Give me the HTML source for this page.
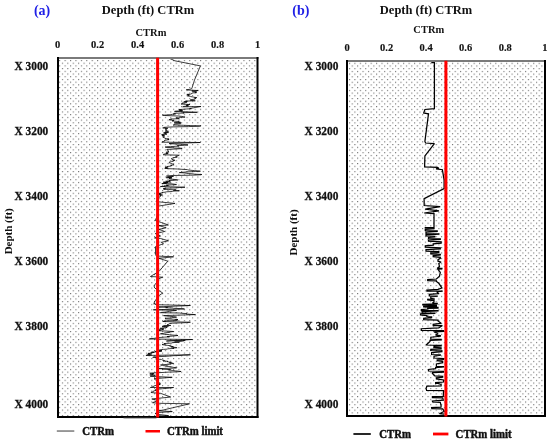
<!DOCTYPE html>
<html><head><meta charset="utf-8"><title>CTRm depth plots</title>
<style>
html,body{margin:0;padding:0;background:#fff;width:550px;height:442px;overflow:hidden}
svg{display:block;filter:blur(0.3px)}
text{font-family:'Liberation Serif','Times New Roman',serif;font-weight:bold;fill:#111}
.lbl{font-size:14px;fill:#2020e6}
.t1{font-size:12.5px}
.t2{font-size:10.5px}
.t3{font-size:11px}
.t4{font-size:12.7px;stroke:#111;stroke-width:0.3px}
.t6{font-size:11.3px;stroke:#111;stroke-width:0.15px}
.t5{font-size:11.6px;stroke:#111;stroke-width:0.45px}
</style></head><body>
<svg width="550" height="442" viewBox="0 0 550 442">
<defs>
<pattern id="dpa" patternUnits="userSpaceOnUse" x="59.15" y="59.95" width="5.42" height="5.42"><rect x="0" y="0" width="1.1" height="1.1" fill="#6c6c6c"/><rect x="2.71" y="2.71" width="1.1" height="1.1" fill="#6c6c6c"/></pattern>
<pattern id="dpb" patternUnits="userSpaceOnUse" x="348.95" y="62.75" width="5.42" height="5.42"><rect x="0" y="0" width="1.1" height="1.1" fill="#6c6c6c"/><rect x="2.71" y="2.71" width="1.1" height="1.1" fill="#6c6c6c"/></pattern>
</defs>
<rect width="550" height="442" fill="#fff"/>
<text x="33.9" y="14.5" class="lbl">(a)</text>
<text x="148" y="14.4" class="t1" text-anchor="middle">Depth (ft) CTRm</text>
<text x="151" y="36.1" class="t2" text-anchor="middle">CTRm</text>
<text transform="translate(57.70,48.35) scale(0.93,1)" class="t6" text-anchor="middle">0</text>
<text transform="translate(97.68,48.35) scale(0.93,1)" class="t6" text-anchor="middle">0.2</text>
<text transform="translate(137.66,48.35) scale(0.93,1)" class="t6" text-anchor="middle">0.4</text>
<text transform="translate(177.64,48.35) scale(0.93,1)" class="t6" text-anchor="middle">0.6</text>
<text transform="translate(217.62,48.35) scale(0.93,1)" class="t6" text-anchor="middle">0.8</text>
<text transform="translate(257.60,48.35) scale(0.93,1)" class="t6" text-anchor="middle">1</text>
<text transform="translate(48.3,69.8) scale(0.895,1)" class="t4" text-anchor="end">X 3000</text>
<text transform="translate(48.3,134.8) scale(0.895,1)" class="t4" text-anchor="end">X 3200</text>
<text transform="translate(48.3,199.8) scale(0.895,1)" class="t4" text-anchor="end">X 3400</text>
<text transform="translate(48.3,264.8) scale(0.895,1)" class="t4" text-anchor="end">X 3600</text>
<text transform="translate(48.3,329.9) scale(0.895,1)" class="t4" text-anchor="end">X 3800</text>
<text transform="translate(48.3,408.3) scale(0.895,1)" class="t4" text-anchor="end">X 4000</text>
<text transform="translate(12,231.3) rotate(-90)" class="t3" text-anchor="middle">Depth (ft)</text>
<rect x="57" y="57" width="201.5" height="361" fill="#fff"/>
<rect x="57" y="57" width="201.5" height="361" fill="url(#dpa)"/>
<polyline points="169.1,58.2 174.9,60.8 200.4,65.9 194.5,80 191.8,88.6 191,88.9 189.7,89.3 186.3,89.7 187.3,90 198.2,90.5 191.8,91 192.5,91.3 196.5,91.7 196.5,92 195,92.3 196.5,92.6 192.3,92.9 192.3,93.2 192.1,93.5 191.1,93.8 190.8,94.1 186.8,94.4 189.3,94.7 188.2,95 189.3,95.3 187.6,95.6 187.3,96 190.5,96.3 190.7,96.6 192.6,96.9 193.8,97.2 196.8,97.6 194.4,97.9 196,98.2 195.2,98.5 194.8,98.8 194.8,99.2 192,99.5 190.3,99.8 190,100.1 190.9,100.4 195.3,100.8 185.5,101.1 187.3,101.4 183.8,101.7 187,102.1 186.6,102.4 185,102.7 182.5,103 183.2,103.3 182.2,103.7 181,104 190,104.5 186.6,104.8 188,105.2 186.3,105.5 188.6,105.8 186.3,106.1 183.3,106.5 182.7,106.8 201,106.5 198.9,106.8 197.2,107.1 195.8,107.4 193.7,107.8 192.2,108.1 189.6,108.4 191.4,108.7 186.4,109 182.8,109.3 178.9,109.6 181.7,109.9 182.3,110.2 179.5,110.5 182.6,110.8 176,111.1 174.5,111.4 186,111.8 197.3,112.3 182.7,112.7 184.2,113 173.9,113.3 173.5,113.6 175.6,113.9 172.4,114.3 170.9,114.6 168.6,114.9 162.5,115.2 164.5,115.5 178.2,116 181.6,116.4 183.6,116.8 185.1,117.1 179.1,117.4 178.6,117.7 176,118 178.1,118.4 179.4,118.7 170.7,119 171.5,119.3 169,119.6 169.6,119.9 171.4,120.2 173.9,120.5 172,120.9 174.8,121.2 179,121.5 179.3,121.8 178.6,122.1 180.8,122.4 174.1,122.8 178.7,123.1 180.6,123.4 180.8,123.7 175.2,124.1 174,124.4 173.5,124.7 174,125 183.7,125.3 190.8,125.6 200.8,125.9 199.6,126.2 188.3,126.6 173.1,126.9 164.7,127.3 165.1,127.6 162.7,127.9 167.8,128.3 165.5,128.6 165.6,128.9 165,129.2 166.7,129.5 166.7,129.9 167.2,130.2 167,130.5 165.3,130.8 166.2,131.1 167.5,131.4 168.5,131.7 165,132 164.7,132.3 168.5,132.6 163.5,132.9 166.1,133.2 165.5,133.5 164.6,133.8 167,134.1 161.7,134.5 161.8,134.8 164.2,135.1 161.9,135.4 164.5,135.7 163.2,136 164.4,136.4 163.9,136.7 163.3,137 162.9,137.3 164.6,137.7 164.9,138 164.9,138.3 166.4,138.6 169.1,139 167.6,139.3 169.1,139.6 167.3,139.9 165,140.3 164.3,140.6 164.8,140.9 164.1,141.2 163.2,141.6 162.3,141.9 161.8,142.2 200.4,142.5 189.1,142.9 174.7,143.2 169,143.6 174,143.9 182,144.3 186.1,144.7 188,145 184.3,145.3 177.3,145.7 178.9,146 175.8,146.3 170.5,146.6 165.1,147 166,147.3 173.1,147.7 174.2,148 182.2,148.3 180.7,148.7 173.9,149.1 167,149.4 166.7,149.8 167.1,150.1 167.8,150.4 168.4,150.8 168.3,151.2 169,151.5 168.1,151.8 166.2,152.1 166.2,152.4 166.7,152.7 168.3,153 165.8,153.3 167.8,153.6 165.5,153.9 163.6,154.2 163.9,154.5 163.3,154.8 179.3,155.2 178.7,155.5 177.5,155.8 177.1,156.1 176.5,156.4 175.6,156.7 177.3,157 176.8,157.3 173.2,157.6 173.2,157.9 172.5,158.2 171.4,158.5 171.3,158.8 171.9,159.1 172,159.4 173.4,159.7 173.5,160 175,160.3 172.8,160.6 173.7,160.9 173.4,161.2 171.5,161.6 170.3,161.9 169.1,162.2 169,162.5 169.6,162.8 170.4,163.2 171.8,163.6 172.5,163.9 173.3,164.2 173.5,164.6 174.1,164.9 170.7,165.2 171.8,165.5 170.5,165.9 170,166.2 167.1,166.5 167.6,166.8 165.3,167.1 166.5,167.4 165.4,167.7 168.2,168 164.7,168.3 168.8,168.7 177.8,169 181.9,169.3 187.4,169.6 187.6,169.9 190.9,170.3 194.7,170.6 197.6,170.9 200.4,171.2 195.5,171.5 187.1,171.9 183.8,172.2 179.3,172.6 184.8,172.9 186.1,173.2 188.2,173.5 193.3,173.9 194.6,174.2 201.9,174.5 200.4,174.8 190.6,175.2 172,175.5 169.8,175.8 166.4,176.1 173.5,176.4 170.9,176.8 168.3,177.1 171.7,177.4 166.2,177.7 171.9,178 169,178.4 169.8,178.7 169.5,179 173.1,179.3 176.9,179.7 177.8,180 169,180.6 170.1,180.9 165.7,181.2 166.7,181.6 170.5,181.9 163.2,182.2 168,182.5 163.8,182.9 166.5,183.2 161.8,183.5 172.2,183.9 175,184.3 176.5,184.6 171.6,184.9 166.2,185.2 168.3,185.6 164.4,185.9 165.1,186.2 160.4,186.5 170.4,186.8 185,187.2 179.6,187.5 175.5,187.9 166.2,188.2 163.3,188.6 165.5,188.9 163.6,189.2 168.7,189.5 176.2,189.9 173.8,190.2 176.1,190.5 179.3,190.8 172.7,191.1 172.4,191.5 166.5,191.8 165,192.2 161.8,192.5 162.7,192.8 161.4,193.1 159,193.4 159,193.7 161.1,194 159,194.3 161.1,194.6 162.5,194.9 162.1,195.2 159.7,195.5 161,195.8 159,197.3 156,201.6 175,203.4 159,206 157.5,207.5 157.5,215 155.3,220.5 161.8,222.7 168.4,225 159,225.6 166.2,227.8 159,229.3 164.7,231.5 155.3,233.6 160.4,235.8 154.5,238 160.5,238.5 168.5,240.8 161.3,242.3 163.5,243.7 155.5,246.6 155.5,254 156.2,256 173.6,256.8 159,258.3 167.8,261.2 159,271.4 150.4,276.5 162.7,277.2 159,278.6 156.2,283 154,285.8 154.7,288 162.7,293 158.4,296 154,302.5 154.7,302.8 154.7,303.1 154.8,303.4 153.6,303.8 155.7,304.1 155.3,304.4 156.2,304.7 173.3,305.1 190.4,305.5 184.1,305.8 175.3,306.1 170.8,306.4 163.7,306.7 159,307 167.7,307.3 165.8,307.7 173,308 173.5,308.3 183.1,308.7 184.5,309 168.1,309.4 153.3,309.8 165.4,310.1 176.5,310.5 172.6,310.8 171.1,311.1 169.4,311.4 166.8,311.8 165,312.1 161.6,312.4 160.5,312.7 179.5,313 181.8,313.3 186.9,313.6 186.3,314 190,314.3 195.5,314.6 185.6,314.9 173.8,315.3 163.5,315.6 166.6,316 169.8,316.3 173.7,316.6 176.5,317 176.1,317.3 172.1,317.6 171.9,317.9 166.7,318.2 165,318.5 165.6,318.9 173.3,319.2 178,319.6 175.4,319.9 177.5,320.2 173.6,320.6 164.4,320.9 165.6,321.2 162.7,321.5 176.4,321.9 190.4,322.2 186.6,322.6 180.4,322.9 172.4,323.2 169.3,323.6 169.1,323.9 168.8,324.2 167.6,324.5 167,324.9 168.6,325.2 170.8,325.5 163.4,325.8 168.4,326.1 165.8,326.4 162,326.7 166.1,327 167.2,327.4 165.5,327.7 163.6,328 160.1,328.3 162.5,328.6 163.9,328.9 162.1,329.2 163.3,329.5 159.1,329.9 160.6,330.2 157.9,330.5 159.8,330.8 167.1,331.1 173.6,331.5 171.3,331.8 169.2,332.1 169.5,332.4 165.2,332.8 164,333.1 163.5,333.4 160.5,333.7 161.9,334 164.8,334.3 169.3,334.6 169.8,334.9 174.6,335.2 178,335.5 175.2,335.8 172.7,336.1 167,336.5 169.5,336.8 164.7,337.1 160.9,337.4 158.8,337.7 156,338 153.8,338.4 149.5,338.7 149.6,339 192.5,339.5 186.9,339.8 182.2,340.1 177,340.4 171.9,340.7 166.4,341 175.6,340.6 185.3,340.3 183.1,340.6 183.6,340.9 182.6,341.2 178.2,341.6 174.5,341.9 179.3,342.2 173.6,342.5 171.9,342.8 171.8,343.1 166,343.4 164,343.7 165.5,344 163.3,344.3 162,344.6 164.4,345 167.8,345.4 170.4,345.7 169.7,346 171.1,346.3 173.4,346.6 170.8,346.9 172.9,347.2 176.5,347.5 177.1,347.8 172.6,348.1 174,348.4 167.7,348.8 167.5,349.1 163.6,349.4 160.5,349.7 159.4,350 160.1,350.3 162,350.6 158.5,350.9 161.7,351.2 155.2,351.5 157.1,351.8 151.5,352.1 154.3,352.4 150.7,352.8 151.7,353.1 148,353.4 150.4,353.7 150.1,354 147.5,354.3 148.6,354.6 151.6,354.9 146.1,355.2 146,355.5 168.6,355.1 190.4,354.8 183.5,355.1 181.2,355.4 173.2,355.7 169.2,356.1 164,356.4 157.3,356.7 153.3,357 152.7,357.3 157.8,357.6 155.8,357.9 155.9,358.2 157.4,358.5 158.8,358.8 155.8,359.1 161.3,359.4 161.6,359.7 162,360 163.9,360.3 164.6,360.6 163,361 168,361.3 167.2,361.6 168.6,361.9 169.9,362.2 171.4,362.5 169.1,362.9 173.2,363.2 173.6,363.5 170.4,363.8 170.9,364.1 167.1,364.4 163,364.7 160.5,365 162.5,365.3 163.1,365.6 167.4,365.9 166.5,366.2 169.6,366.5 169.5,366.8 172.3,367.1 173.7,367.4 176.8,367.7 176.5,368 168.9,368.3 159,368.6 162.8,368.9 162.3,369.2 170.6,369.6 168.5,369.9 171,370.2 172.8,370.5 175.5,370.9 178.5,371.2 181,371.5 177.4,371.8 168.9,372.1 164.1,372.4 157.6,372.7 151.8,373 149.8,373.3 153.9,373.6 152.1,374 152.6,374.3 153.3,374.6 149.8,374.9 155.5,375.2 154,375.5 153.8,375.9 150.2,376.2 154,376.5 172.2,377.3 154,378.7 160.5,383.8 158.2,384.1 160.2,384.4 157.7,384.7 159.1,385 156.6,385.3 154.7,385.6 153.6,386 153.9,386.3 153.7,386.6 151.9,386.9 151.2,387.2 150.4,387.5 173.6,387.5 171.5,387.8 169.5,388.1 166,388.4 162.6,388.7 159,389 158.1,389.3 157.8,389.6 155,390 156.5,390.3 155.4,390.6 153.6,390.9 153.6,391.2 153.5,391.5 152.3,391.9 151.2,392.2 151,392.5 154.8,392.9 160.5,393.3 170.7,397 151.8,399 158,400.5 152.5,402.7 159.5,403.3 189.5,403.8 163.2,410 159,410.8 172.3,411.6 158,412.5 155,413.5 159,414.5 168.6,415.6 159,416" fill="none" stroke="#000" stroke-width="0.75" stroke-linejoin="miter" stroke-miterlimit="3"/>
<rect x="57" y="57" width="201.5" height="2" fill="#7a7a7a"/>
<rect x="57" y="57" width="2" height="361" fill="#000"/>
<rect x="256.5" y="57" width="2" height="361" fill="#000"/>
<rect x="57" y="416" width="201.5" height="2" fill="#000"/>
<rect x="156.1" y="57.7" width="3" height="359.8" fill="#f00"/>
<rect x="123.5" y="417.6" width="33" height="0.8" fill="#555"/><rect x="56.8" y="430.2" width="17.5" height="1.7" fill="#8a8a8a"/><text transform="translate(82.3,435) scale(0.93,1)" class="t5">CTRm</text><rect x="145.5" y="430" width="14.5" height="2.5" fill="#f00"/><text transform="translate(167,435) scale(0.93,1)" class="t5">CTRm limit</text>
<text x="292.3" y="14.5" class="lbl">(b)</text>
<text x="426.0" y="14.0" class="t1" text-anchor="middle">Depth (ft) CTRm</text>
<text x="428.8" y="33.2" class="t2" text-anchor="middle">CTRm</text>
<text transform="translate(347.00,50.8) scale(0.93,1)" class="t6" text-anchor="middle">0</text>
<text transform="translate(386.56,50.8) scale(0.93,1)" class="t6" text-anchor="middle">0.2</text>
<text transform="translate(426.12,50.8) scale(0.93,1)" class="t6" text-anchor="middle">0.4</text>
<text transform="translate(465.68,50.8) scale(0.93,1)" class="t6" text-anchor="middle">0.6</text>
<text transform="translate(505.24,50.8) scale(0.93,1)" class="t6" text-anchor="middle">0.8</text>
<text transform="translate(544.80,50.8) scale(0.93,1)" class="t6" text-anchor="middle">1</text>
<text transform="translate(338.4,69.8) scale(0.895,1)" class="t4" text-anchor="end">X 3000</text>
<text transform="translate(338.4,134.8) scale(0.895,1)" class="t4" text-anchor="end">X 3200</text>
<text transform="translate(338.4,199.8) scale(0.895,1)" class="t4" text-anchor="end">X 3400</text>
<text transform="translate(338.4,264.8) scale(0.895,1)" class="t4" text-anchor="end">X 3600</text>
<text transform="translate(338.4,330) scale(0.895,1)" class="t4" text-anchor="end">X 3800</text>
<text transform="translate(338.4,408.2) scale(0.895,1)" class="t4" text-anchor="end">X 4000</text>
<text transform="translate(297,232.5) rotate(-90)" class="t3" text-anchor="middle">Depth (ft)</text>
<rect x="346" y="60" width="200" height="357" fill="#fff"/>
<rect x="346" y="60" width="200" height="357" fill="url(#dpb)"/>
<polyline points="431.3,62.7 434.4,62.7 434.4,108.7 424.9,109.5 423.7,113 428.5,113.8 424.9,141.5 425.6,143 434.4,143.6 424.9,155.9 424.6,166.8 431.5,167.1 437.5,167.4 438.8,168.2 436,168.9 442.4,169.7 444.1,180 444.1,188.6 424.1,198.6 424.2,205.5 440.2,206.6 425.2,209.2 439,210.9 424.2,213 434,213.6 434,227.4 425.3,227.54 425.3,227.8 434,228.08 434,228.6 425.3,229.26 425.3,230.5 437.2,230.78 437.2,231.3 426,232.14 426,233.7 438.8,233.84 438.8,234.1 426,234.76 426,236 434.8,236.31 434.8,236.9 428.5,237.46 428.5,238.5 440.3,238.78 440.3,239.3 428.5,239.97 428.5,241.2 441.1,241.9 441.1,243.2 433.2,243.9 433.2,245.2 425.3,245.9 425.3,247.2 440.3,247.76 440.3,248.8 426,249.61 426,251.1 438.8,251.52 438.8,252.3 430.8,252.86 430.8,253.9 440.3,254.28 440.3,255 433.2,255.59 433.2,256.7 440.3,257.26 440.3,258.3 438,259.6 438,261.2 441.1,262 438.8,263.5 439.5,266.7 437.2,268.3 441.9,268.44 441.9,268.7 438,269.5 440.3,272.3 439.5,276.2 436.4,279 427.7,279.56 427.7,280.6 436.4,280.88 436.4,281.4 438.8,283.3 441.9,288 438,289.3 426.9,289.97 426.9,291.2 442.7,291.2 437.2,291.62 437.2,292.4 438.8,293.6 429.3,294.44 429.3,296 437.2,296.11 437.2,296.3 430.8,297 430.8,298.3 434.8,299.1 427.7,299.38 427.7,299.9 434,300.6 434,301.9 432.4,303 437.2,303.31 437.2,303.9 422.9,304.28 422.9,305 436.4,305.42 436.4,306.2 423.7,306.48 423.7,307 438,307.42 438,308.2 427.7,308.48 427.7,309 421.3,309.56 421.3,310.6 438,310.74 438,311 422.1,311.7 422.1,313 434.8,313.14 434.8,313.4 420.5,313.96 420.5,315 426.9,315.52 426.9,316.5 431.6,316.92 431.6,317.7 423.7,318.4 423.7,319.7 438,320.12 438,320.9 441.1,323.3 438.8,323.6 433.2,324.3 433.2,325.6 441.9,325.74 441.9,326 438.8,327.9 421.3,328.74 421.3,330.3 443.5,330.72 443.5,331.5 434.8,331.78 434.8,332.3 438,333.5 435.6,335.1 440.3,335.52 440.3,336.3 430.8,337.25 430.8,339 441.1,339.28 441.1,339.8 430,340.36 430,341.4 426.1,345 441.1,345.28 441.1,345.8 434,346.32 434,347.3 441.1,347.86 441.1,348.9 430.8,349.46 430.8,350.5 441.9,350.92 441.9,351.7 431.6,352.68 431.6,354.5 440.3,354.78 440.3,355.3 434,356.25 434,358 443.5,358.52 443.5,359.5 437.2,359.92 437.2,360.7 442.7,361.4 442.7,362.7 436.4,363.96 436.4,366.3 443.5,366.55 443.5,367 435.6,367.56 435.6,368.6 428.5,369.44 428.5,371 443.5,371.42 443.5,372.2 432.4,372.62 432.4,373.4 434.8,375.8 442.7,376.32 442.7,377.3 436.4,377.86 436.4,378.9 443.5,379.99 443.5,382 435.6,382.59 435.6,383.7 437.2,383.2 441.1,384.5 441.1,385.8 426.9,386.2 426.1,388.3 426.6,390.3 443.5,390.7 443.3,396.3 432.4,396.6 432.4,397.6 442.7,397.8 443.3,400.2 432.4,401 432.6,402 440.3,402.3 441.1,405.8 441,407.2 431.6,407.7 431.8,408.6 442.7,408.9 444.3,411.3 439.5,413.7 444.3,414.1" fill="none" stroke="#000" stroke-width="1.25" stroke-linejoin="miter" stroke-miterlimit="2"/>
<rect x="346" y="60" width="200" height="2" fill="#7a7a7a"/>
<rect x="346" y="60" width="2" height="357" fill="#000"/>
<rect x="544" y="60" width="2" height="357" fill="#000"/>
<rect x="346" y="415" width="200" height="2" fill="#000"/>
<rect x="444.4" y="60.7" width="3" height="355.8" fill="#f00"/>
<rect x="353.4" y="433.1" width="17.4" height="1.8" fill="#111"/><text transform="translate(379.3,438.4) scale(0.93,1)" class="t5">CTRm</text><rect x="433" y="432.6" width="15.4" height="2.8" fill="#f00"/><text transform="translate(455.6,438.4) scale(0.93,1)" class="t5">CTRm limit</text>
</svg>
</body></html>
